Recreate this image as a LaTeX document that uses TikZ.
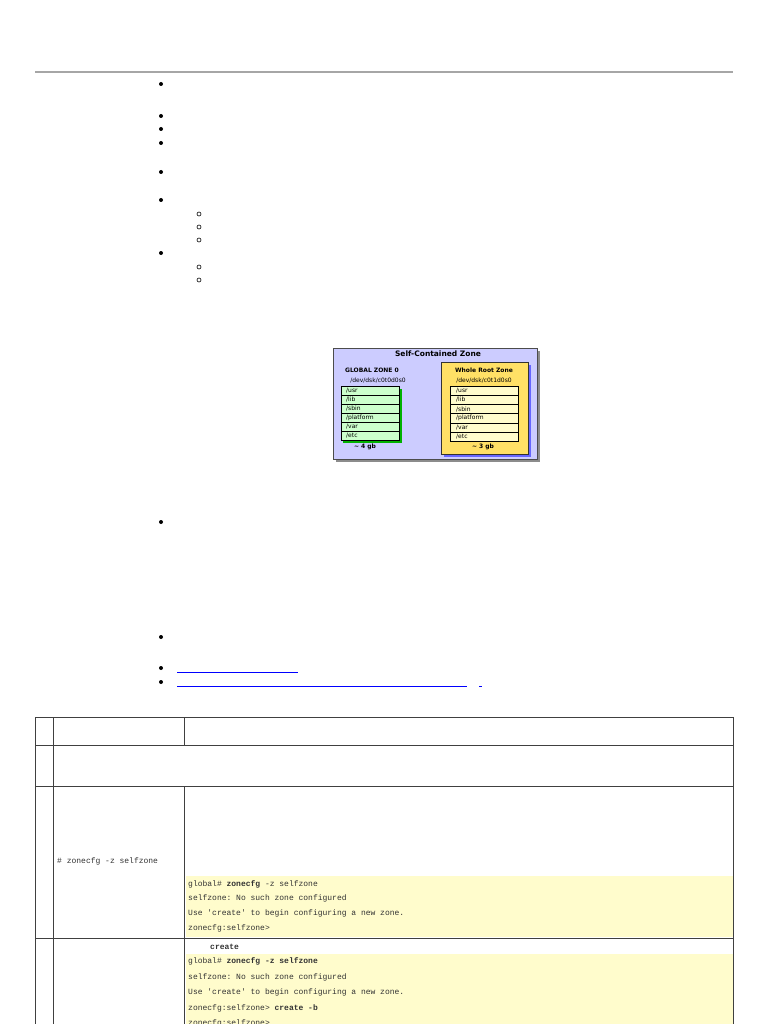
\documentclass[tikz,border=0pt]{standalone}
\usepackage{fontspec}
\setmainfont{DejaVu Sans}
\setmonofont{Liberation Mono}
\begin{document}
\begin{tikzpicture}[x=1pt,y=-1pt,
  bul/.style={circle,fill=black,inner sep=0pt,minimum size=4pt},
  lnk/.style={draw=blue,line width=1pt},
  grid/.style={draw=black!75,line width=1pt},
  code/.style={font=\ttfamily\fontsize{8}{8}\selectfont,text=black!80,anchor=west,inner sep=0pt},
  dlab/.style={font=\fontsize{6}{6}\selectfont,inner sep=0pt},
  greenrow/.style={draw=black,fill=green!20,line width=0.6pt,minimum width=58pt,minimum height=9pt,inner sep=0pt},
  yellowrow/.style={draw=black,fill=yellow!20,line width=0.6pt,minimum width=68pt,minimum height=9.2pt,inner sep=0pt},
  rtxt/.style={font=\fontsize{6}{6}\selectfont,anchor=west,inner sep=0pt}]
\useasboundingbox (0,0) rectangle (768,1024);
\fill[white] (0,0) rectangle (768,1024);
\draw[black!35,line width=2pt] (35,72) -- (733,72);
% bullets
\foreach \y [count=\i] in {84,116,129,143,172,200,253,522,637,668,682} \node[bul] (b\i) at (161,\y) {};
\foreach \y [count=\i] in {214,227,240,267,280} \draw[line width=0.6pt] (199,\y) circle (2pt);
\draw[lnk] (177,672) -- (298,672);
\draw[lnk] (177,686) -- (467,686);
\draw[lnk] (479,686) -- (482,686);
% diagram
\fill[black!45] (336,351) rectangle (540,462);
\node[draw=black!70,fill=blue!20,line width=0.8pt,minimum width=204pt,minimum height=111pt,inner sep=0pt] (outer) at (435,403.5) {};
\node[font=\bfseries\fontsize{7.5}{8}\selectfont] (title) at (438,354) {Self-Contained Zone};
\node[dlab,font=\bfseries\fontsize{6}{6}\selectfont] (gz) at (372,370) {GLOBAL ZONE 0};
\node[dlab] (gzd) at (378,380) {/dev/dsk/c0t0d0s0};
\fill[green!70!black] (343,389) rectangle (402,443);
\foreach \t [count=\i] in {/usr,/lib,/sbin,/platform,/var,/etc}{
  \node[greenrow] (g\i) at (370,{386+9*\i-4.5}) {};
  \node[rtxt] at (346,{386+9*\i-4.5}) {\t};}
\node[dlab,font=\bfseries\fontsize{6}{6}\selectfont] (g4gb) at (365,447) {\textasciitilde\ 4 gb};
\fill[blue!60] (444,365) rectangle (531,457);
\node[draw=black!80,fill=orange!40!yellow!60,line width=0.8pt,minimum width=87pt,minimum height=92pt,inner sep=0pt] (wrz) at (484.5,408) {};
\node[dlab,font=\bfseries\fontsize{6}{6}\selectfont] (wt) at (484,370) {Whole Root Zone};
\node[dlab] (wd) at (484,380) {/dev/dsk/c0t1d0s0};
\foreach \t [count=\i] in {/usr,/lib,/sbin,/platform,/var,/etc}{
  \node[yellowrow] (y\i) at (484,{386+9.2*\i-4.6}) {};
  \node[rtxt] at (456,{386+9.2*\i-4.6}) {\t};}
\node[dlab,font=\bfseries\fontsize{6}{6}\selectfont] (w3gb) at (483,447) {\textasciitilde\ 3 gb};
% table
\fill[yellow!20] (186,876) rectangle (733,937);
\fill[yellow!20] (186,954) rectangle (733,1024);
\draw[grid] (35,717) -- (733,717);
\draw[grid] (35,745) -- (733,745);
\draw[grid] (35,786) -- (733,786);
\draw[grid] (35,938) -- (733,938);
\draw[grid] (35,717) -- (35,1024);
\draw[grid] (53,717) -- (53,1024);
\draw[grid] (733,717) -- (733,1024);
\draw[grid] (184,717) -- (184,745);
\draw[grid] (184,786) -- (184,1024);
\node[code] (t1) at (57,861) {\# zonecfg -z selfzone};
\node[code] (l1) at (188,884) {global\# \textbf{zonecfg} -z selfzone};
\node[code] (l2) at (188,898) {selfzone: No such zone configured};
\node[code] (l3) at (188,913) {Use 'create' to begin configuring a new zone.};
\node[code] (l4) at (188,928) {zonecfg:selfzone>};
\node[code] (m0) at (210,947) {\textbf{create}};
\node[code] (m1) at (188,961) {global\# \textbf{zonecfg -z selfzone}};
\node[code] (m2) at (188,977) {selfzone: No such zone configured};
\node[code] (m3) at (188,992) {Use 'create' to begin configuring a new zone.};
\node[code] (m4) at (188,1008) {zonecfg:selfzone> \textbf{create -b}};
\node[code] (m5) at (188,1023) {zonecfg:selfzone>};
\end{tikzpicture}
\end{document}
